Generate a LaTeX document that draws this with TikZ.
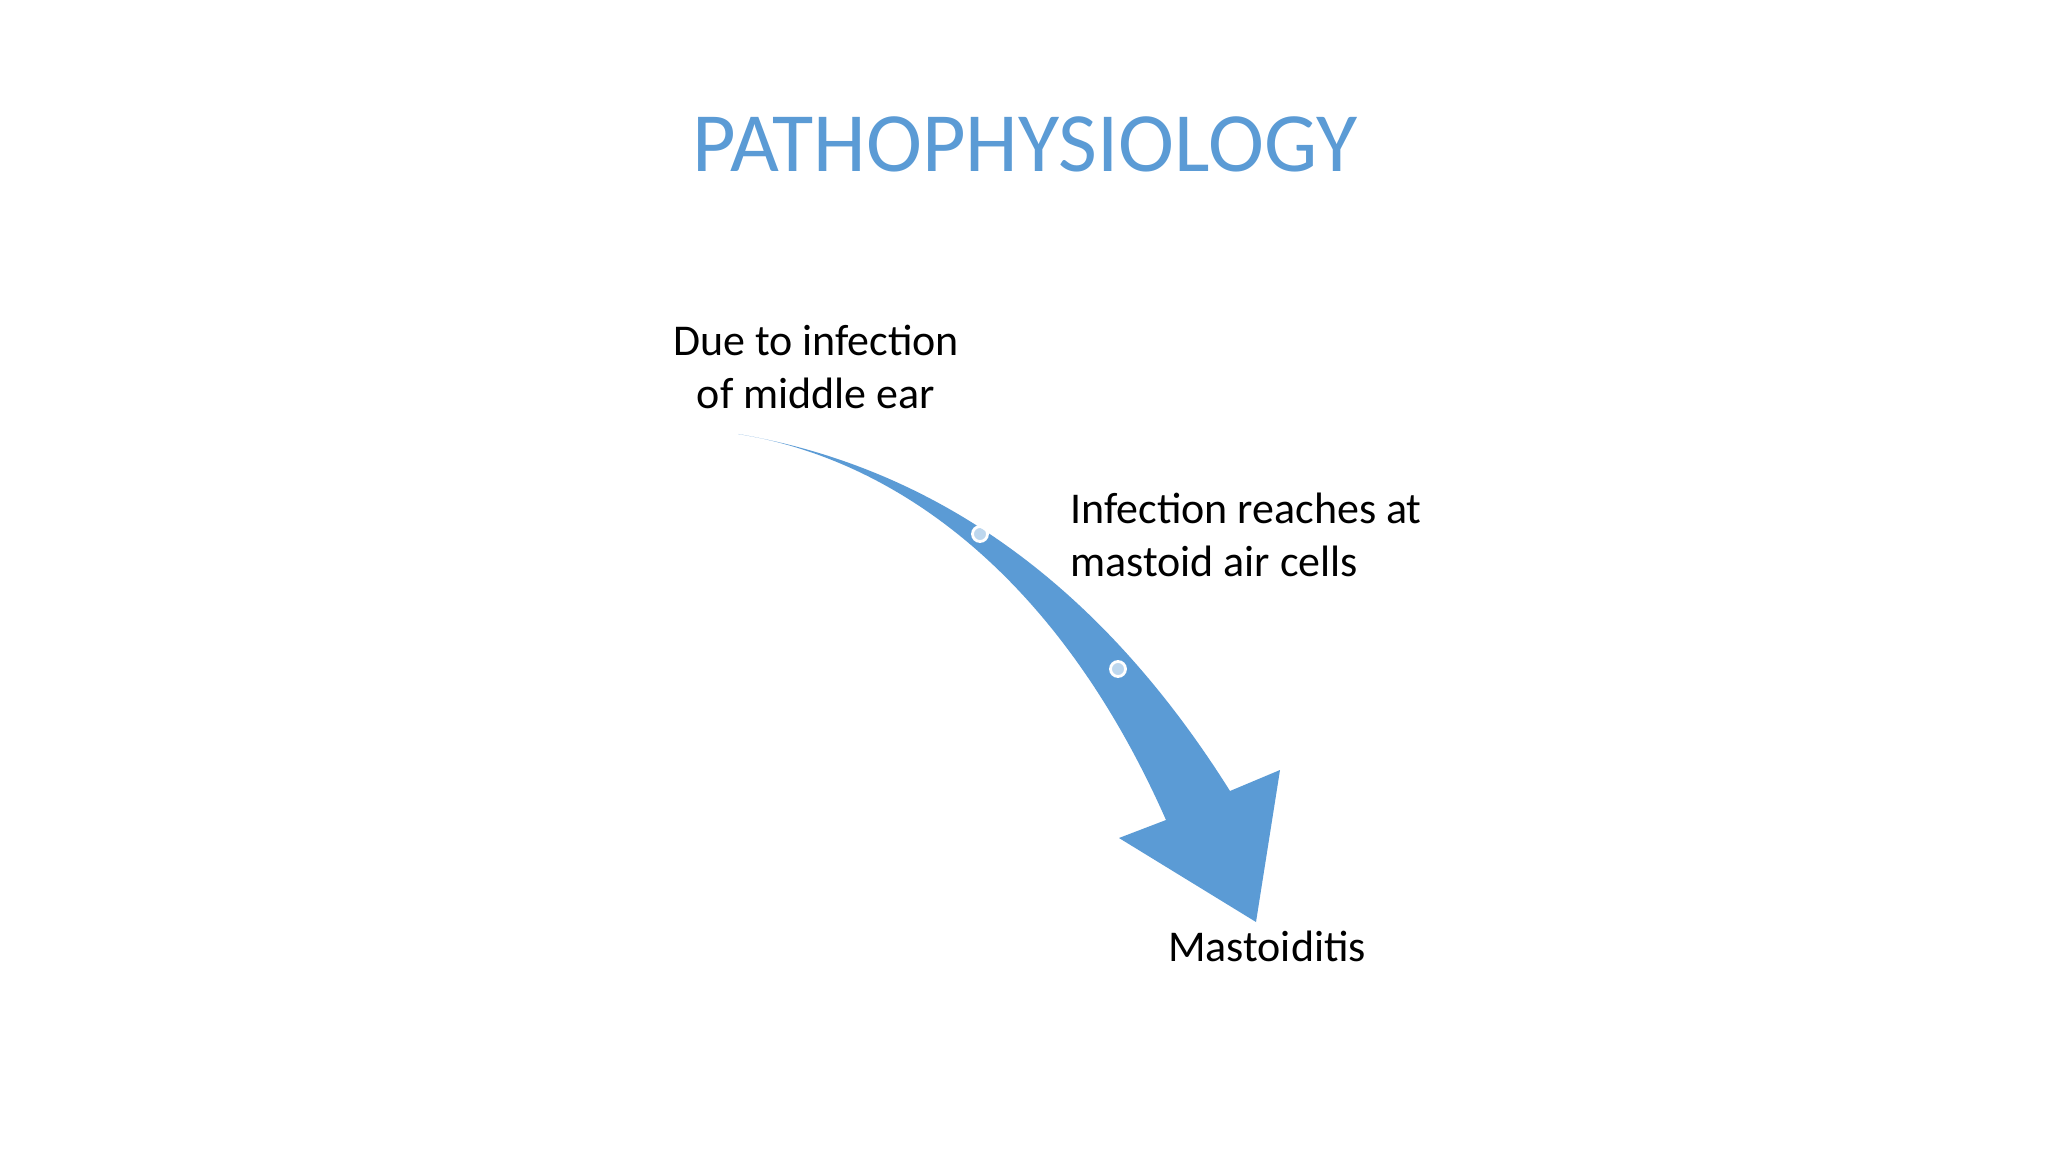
\documentclass[tikz,border=0pt]{standalone}
\usepackage{fontspec}
\setmainfont{Carlito}
\begin{document}
\begin{tikzpicture}[x=0.01cm,y=-0.01cm,
  lbl/.style={font=\fontsize{12.5}{15}\selectfont, text=black, align=center},
  dot/.style={circle, fill=white, fill opacity=0.6, draw=white, line width=0.8pt, minimum size=0.15cm, inner sep=0pt}]
\definecolor{accent}{HTML}{5B9BD5}
\useasboundingbox (0,0) rectangle (2048,1152);
\fill[white] (0,0) rectangle (2048,1152);
\node (title) at (1025,144) {\fontsize{24}{28}\selectfont\color{accent}PATHOPHYSIOLOGY};
\fill[accent] (738,434) .. controls (950,470) and (1110,600) .. (1230,791)
  -- (1280,770) -- (1256,922) -- (1119,838) -- (1166,820)
  .. controls (1060,580) and (900,460) .. (738,434) -- cycle;
\node[dot] (d1) at (980,534) {};
\node[dot] (d2) at (1118,669) {};
\node[lbl] (a) at (816,367) {Due to infection\\of middle ear};
\node[lbl, align=left, anchor=west] (b) at (1058,535) {Infection reaches at\\mastoid air cells};
\node[lbl] (c) at (1267,946) {Mastoiditis};
\end{tikzpicture}
\end{document}
